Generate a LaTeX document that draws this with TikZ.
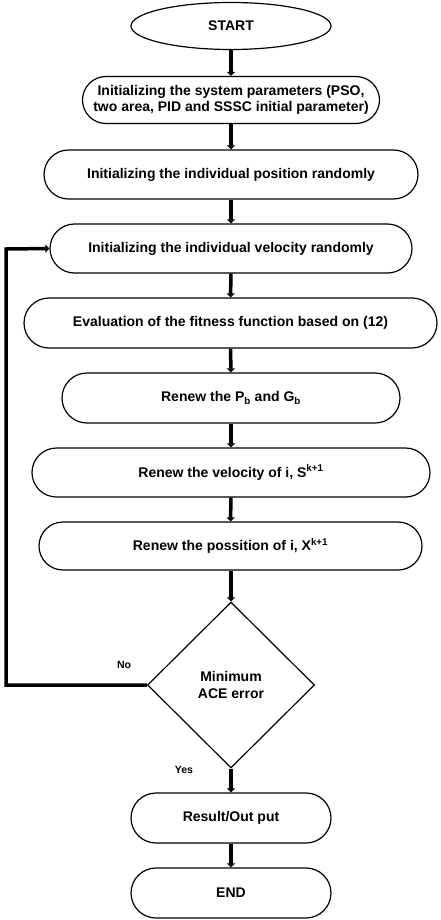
\documentclass[tikz,border=0pt]{standalone}
\usepackage{fontspec}
\setmainfont{Liberation Sans}
\usetikzlibrary{shapes.geometric,arrows.meta}
\begin{document}
\begin{tikzpicture}[x=1pt,y=-1pt,
  every node/.style={font=\bfseries\fontsize{14}{16.5}\selectfont},
  term/.style={draw,line width=1.2pt,ellipse,inner sep=0pt},
  procbox/.style={draw,line width=1.2pt,inner sep=0pt,align=center},
  decbox/.style={draw,line width=1.2pt,diamond,inner sep=0pt,align=center},
  flow/.style={line width=3.5pt,-{Triangle[width=8pt,length=4pt]}},
  lbl/.style={font=\bfseries\fontsize{10.5}{12}\selectfont}
]
\useasboundingbox (0,0) rectangle (440,920);
\node[term,minimum width=200pt,minimum height=47pt] (start) at (231,26) {START};
\node[procbox,minimum width=297pt,minimum height=47pt,rounded corners=23.5pt] (b1) at (231,100) {Initializing the system parameters (PSO,\\two area, PID and SSSC initial parameter)};
\node[procbox,minimum width=374pt,minimum height=49pt,rounded corners=24.5pt] (b2) at (231,174.5) {Initializing the individual position randomly};
\node[procbox,minimum width=362pt,minimum height=49pt,rounded corners=24.5pt] (b3) at (231,248.5) {Initializing the individual velocity randomly};
\node[procbox,minimum width=413pt,minimum height=50pt,rounded corners=25pt] (b4) at (230.5,323) {Evaluation of the fitness function based on (12)};
\node[procbox,minimum width=338pt,minimum height=50pt,rounded corners=25pt] (b5) at (231,398) {Renew the P\textsubscript{b} and G\textsubscript{b}};
\node[procbox,minimum width=398pt,minimum height=49pt,rounded corners=24.5pt] (b6) at (231,472.5) {Renew the velocity of i, S\textsuperscript{k+1}};
\node[procbox,minimum width=383pt,minimum height=48pt,rounded corners=24pt] (b7) at (230.5,546) {Renew the possition of i, X\textsuperscript{k+1}};
\node[decbox,minimum width=167pt,minimum height=166pt] (dec) at (231,685) {Minimum\\ACE error};
\node[procbox,minimum width=200pt,minimum height=50pt,rounded corners=25pt] (res) at (231,818) {Result/Out put};
\node[procbox,minimum width=200pt,minimum height=50pt,rounded corners=25pt] (end) at (231,893) {END};
\node[lbl] (no) at (124,665) {No};
\node[lbl] (yes) at (184,770) {Yes};
\coordinate (c1) at (6,685);
\coordinate (c2) at (6,249);
\draw[flow] (start) -- (b1);
\draw[flow] (b1) -- (b2);
\draw[flow] (b2) -- (b3);
\draw[flow] (b3) -- (b4);
\draw[flow] (b4) -- (b5);
\draw[flow] (b5) -- (b6);
\draw[flow] (b6) -- (b7);
\draw[flow] (b7.south -| dec.north) -- (dec.north);
\draw[flow] (dec) -- (res);
\draw[flow] (res) -- (end);
\draw[flow] (dec.west) -- (c1) -- (c2) -- (b3.west);
\end{tikzpicture}
\end{document}
